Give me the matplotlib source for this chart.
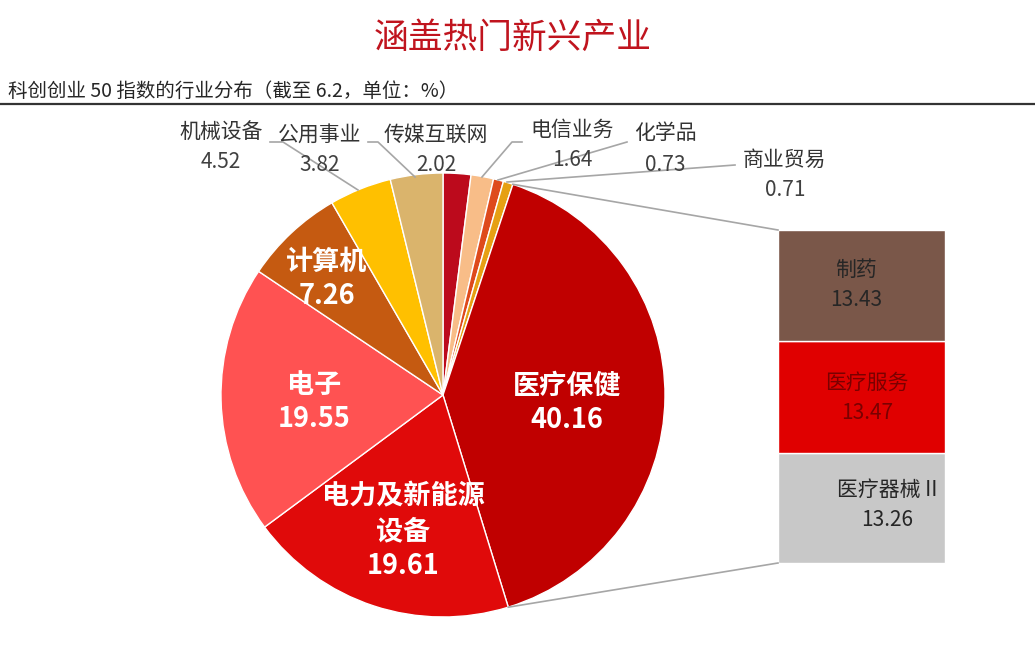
import numpy as np
import matplotlib
matplotlib.use('Agg')
from matplotlib import pyplot as plt

plt.rcParams['font.family'] = ['Noto Sans CJK SC', 'DejaVu Sans']

# pie data (clockwise from 12 o'clock)
industries = ['传媒互联网', '电信业务', '化学品', '商业贸易', '医疗保健',
              '电力及新能源设备', '电子', '计算机', '机械设备', '公用事业']
weights = [2.02, 1.64, 0.73, 0.71, 40.16, 19.61, 19.55, 7.26, 4.52, 3.82]
colors = ['#BC0A1C', '#F8BD88', '#DE4A1C', '#E6A013', '#C00000',
          '#E00A0A', '#FF5252', '#C55A11', '#FFC000', '#DAB46C']

# breakdown of 医疗保健 (top to bottom in the bar)
sub_names = ['制药', '医疗服务', '医疗器械 II']
sub_weights = [13.43, 13.47, 13.26]
sub_colors = ['#7A5749', '#E00000', '#C8C8C8']

W, H = 1035, 667
fig = plt.figure(figsize=(W / 100, H / 100), dpi=100)
ax = fig.add_axes([0, 0, 1, 1])

def Y(y):
    return H - y

cx, cy, R = 443, Y(395), 222
wedges, _ = ax.pie(weights, colors=colors, startangle=90, counterclock=False,
                   center=(cx, cy), radius=R,
                   wedgeprops=dict(edgecolor='white', linewidth=1))
ax.set_xlim(0, W)
ax.set_ylim(0, H)
ax.set_aspect('auto')
ax.axis('off')

# stacked bar on the right
bx, bw = 861.5, 167
btop, bbot = Y(230), Y(563)
k = (btop - bbot) / sum(sub_weights)
bottom = bbot
for name, v, c in zip(sub_names[::-1], sub_weights[::-1], sub_colors[::-1]):
    ax.bar(bx, v * k, width=bw, bottom=bottom, color=c, edgecolor='white', linewidth=1)
    bottom += v * k

# connector lines pie -> bar
w = wedges[4]
t1, t2 = np.radians(w.theta1), np.radians(w.theta2)
p_top = (cx + R * np.cos(t2), cy + R * np.sin(t2))
p_bot = (cx + R * np.cos(t1), cy + R * np.sin(t1))
ax.plot([p_top[0], bx - bw / 2], [p_top[1], btop], color='#A6A6A6', lw=1.2)
ax.plot([p_bot[0], bx - bw / 2], [p_bot[1], bbot], color='#A6A6A6', lw=1.2)

# bar labels
bar_txt = ['#262626', '#7A0000', '#262626']
bar_pos = [(856, 270, 300), (867, 383, 413), (887, 490, 520)]
for name, v, c, (x, y1, y2) in zip(sub_names, sub_weights, bar_txt, bar_pos):
    ax.text(x, Y(y1), name, ha='center', va='center', fontsize=15, color=c)
    ax.text(x, Y(y2), f'{v:.2f}', ha='center', va='center', fontsize=15, color=c)

# labels inside the pie
inside = [
    ('医疗保健\n40.16', 567, 403),
    ('电力及新能源\n设备\n19.61', 403, 531),
    ('电子\n19.55', 314, 402),
    ('计算机\n7.26', 327, 279),
]
for s, x, y in inside:
    ax.text(x, Y(y), s, ha='center', va='center', fontsize=19.5, color='white',
            fontweight='bold', linespacing=1.3)

# outer labels
outer = [
    ('机械设备', 221, 132, 162),
    ('公用事业', 320, 135, 165),
    ('传媒互联网', 436, 135, 165),
    ('电信业务', 572, 130, 160),
    ('化学品', 665, 133, 165),
    ('商业贸易', 785, 160, 190),
]
lookup = dict(zip(industries, weights))
for name, x, y1, y2 in outer:
    ax.text(x, Y(y1), name, ha='center', va='center', fontsize=15, color='#333333')
    ax.text(x, Y(y2), f'{lookup[name]:.2f}', ha='center', va='center', fontsize=15,
            color='#404040')

# leader lines
leaders = [
    [(270, 142), (283, 142), (358, 190)],
    [(368, 142), (378, 142), (415, 177)],
    [(522, 142), (512, 142), (482, 177)],
    [(627, 142), (498, 180)],
    [(735, 165), (507, 182)],
]
for pts in leaders:
    xs = [p[0] for p in pts]
    ys = [Y(p[1]) for p in pts]
    ax.plot(xs, ys, color='#A6A6A6', lw=1.2)

# title / subtitle
ax.text(513, Y(38), '涵盖热门新兴产业', ha='center', va='center', fontsize=25,
        color='#C0141E')
ax.text(8, Y(91), '科创创业 50 指数的行业分布（截至 6.2，单位：%）', ha='left',
        va='center', fontsize=14, color='#262626')
ax.plot([0, W], [Y(104), Y(104)], color='#333333', lw=1.6)

fig.savefig('out.png', dpi=100)
